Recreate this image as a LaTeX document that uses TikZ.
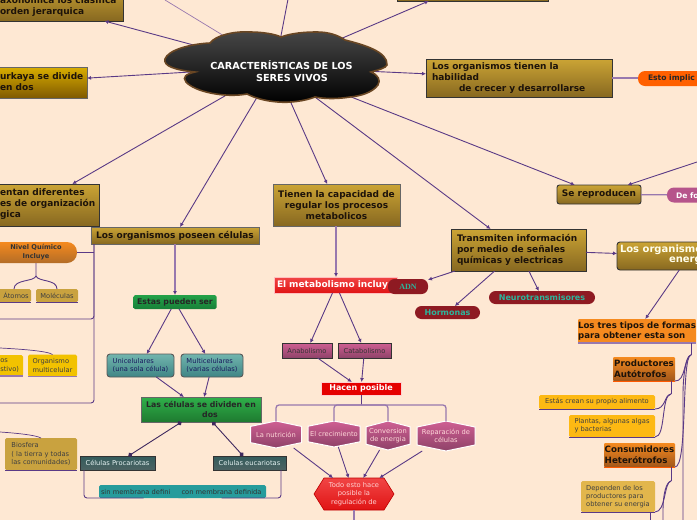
\documentclass[tikz,border=0pt]{standalone}
\usepackage{fontspec}
\setmainfont{DejaVu Sans}
\newfontfamily\serfont{Liberation Serif}
\usetikzlibrary{shapes.geometric,calc,arrows.meta}
\definecolor{bgc}{HTML}{FEE8D3}
\definecolor{conc}{HTML}{5A3A86}
\definecolor{palec}{HTML}{9878AE}
\definecolor{goldt}{HTML}{CBA435}
\definecolor{goldb}{HTML}{876820}
\definecolor{tealt}{HTML}{72B5AE}
\definecolor{tealb}{HTML}{3F8585}
\definecolor{pinkt}{HTML}{CF5F93}
\definecolor{pinkb}{HTML}{8E4268}
\definecolor{redt}{HTML}{F14545}
\definecolor{redb}{HTML}{E01414}
\definecolor{darkred}{HTML}{8E1A22}
\definecolor{teltxt}{HTML}{2CB59C}
\definecolor{leafa}{HTML}{FDB913}
\definecolor{leafb}{HTML}{E2B64C}
\definecolor{leafc}{HTML}{C9A23F}
\definecolor{leafd}{HTML}{F2C200}
\definecolor{orangeb}{HTML}{F58A1F}
\definecolor{brownb}{HTML}{A0561A}
\definecolor{greena}{HTML}{24A148}
\definecolor{greenb}{HTML}{178038}
\definecolor{greenc}{HTML}{2FB04A}
\definecolor{greend}{HTML}{1E7A30}
\tikzset{
 x=1pt,y=-1pt,
 conn/.style={draw=conc,line width=0.9pt},
 pale/.style={draw=palec,line width=1.3pt},
 arr/.style={conn,-{Latex[length=4pt,width=4pt]}},
 parr/.style={pale,-{Latex[length=4pt,width=4pt,color=conc]}},
 dotarr/.style={draw=conc!70!black,line width=0.9pt,{Circle[length=4.5pt]}-{Circle[length=4.5pt]}},
 boxfont/.style={font=\fontsize{9}{11}\selectfont\bfseries,text=black!85!brown},
 smallfont/.style={font=\fontsize{6.7}{8.2}\selectfont},
 plain/.style={inner sep=0pt,outer sep=0pt,rectangle},
 goldbox/.style={plain,top color=goldt,bottom color=goldb,draw=black!80,line width=0.9pt,boxfont,align=left},
 yelbox/.style={goldbox,top color=yellow!60!orange!85!black,bottom color=yellow!40!orange!50!black,draw=black!60},
 greenbox/.style={plain,top color=greena,bottom color=greenb,font=\fontsize{7.8}{10}\selectfont\bfseries,text=black!85,align=center},
 tealbox/.style={plain,rounded corners=3pt,top color=tealt,bottom color=tealb,draw=black!65,line width=0.9pt,smallfont,text=black!70!blue!90!white,align=left},
 slatebox/.style={plain,top color=teal!40!black!80,bottom color=teal!25!black!70!white,draw=black!80,line width=0.9pt,smallfont,text=white!90!teal},
 tbar/.style={plain,fill=teal!55!cyan!75!black!85,rounded corners=1.5pt,smallfont,text=black!80},
 pinkbox/.style={plain,top color=pinkt,bottom color=pinkb,draw=black!80,line width=0.9pt,smallfont,text=black!80},
 redlabel/.style={plain,top color=redt,bottom color=redb,draw=red!25,line width=0.8pt,font=\fontsize{9}{10}\selectfont\bfseries,text=white},
 pillred/.style={plain,rounded corners=6.5pt,fill=darkred,font=\fontsize{8}{10}\selectfont\bfseries,text=teltxt},
 orbox/.style={plain,fill=orangeb,font=\fontsize{8.6}{10.5}\selectfont\bfseries,text=black!85!brown,align=left,rounded corners=1pt},
 brbox/.style={plain,rounded corners=1pt,top color=orangeb,bottom color=brownb,text=black!85!brown,font=\fontsize{8.7}{11.5}\selectfont\bfseries,align=left},
 yleaf/.style={plain,rounded corners=1.5pt,smallfont,text=black!75,align=left},
 hexlabel/.style={plain,smallfont,text=pink!60!white,align=center},
 energyt/.style={plain,font=\fontsize{10}{12}\selectfont\bfseries,text=white!92!yellow,anchor=north west},
}
\newcommand{\hexn}[6]{% name cx cy w h text
 \shade[top color=pinkt,bottom color=pinkb,draw=white,line width=1pt]
  (#2,#3-#5/2) -- (#2+#4/2,#3-#5/2+#5*0.2) -- (#2+#4/2,#3+#5/2-#5*0.2)
  -- (#2,#3+#5/2) -- (#2-#4/2,#3+#5/2-#5*0.2) -- (#2-#4/2,#3-#5/2+#5*0.2) -- cycle;
 \node[hexlabel,minimum width=#4 pt,minimum height=#5 pt] (#1) at (#2,#3) {#6};
}
\begin{document}
\begin{tikzpicture}
\useasboundingbox (0,0) rectangle (697,520);
\clip (0,0) rectangle (697,520);
\fill[bgc] (0,0) rectangle (697,520);

% --- free ends
\coordinate (topa) at (289,-6);
\coordinate (topb) at (165,0);
\coordinate (topr) at (697,162);
\coordinate (bus) at (94,244);
\coordinate (l1) at (0,319);
\coordinate (l2) at (0,403);
\coordinate (l3) at (0,348);
\coordinate (l4) at (0,432);
\coordinate (atomtop) at (14,289);

% hub of the connectors, covered by the cloud drawn last
\node[plain,ellipse,minimum width=150pt,minimum height=50pt] (cloud) at (275,67) {};

% --- gold boxes
\node[goldbox,minimum width=178pt,minimum height=38pt] (taxo) at (34,2) {};
\node[plain,boxfont,align=left,anchor=north west] (taxot) at (0,-3.5) {axonomica los clasifica\\orden jerarquica};
\node[yelbox,minimum width=148pt,minimum height=31pt] (eur) at (13,82.5) {};
\node[plain,boxfont,align=left,anchor=north west] (eurt) at (0,72.5) {urkaya se divide\\en dos};
\node[goldbox,minimum width=126pt,minimum height=42pt] (pres) at (36,205) {};
\node[plain,boxfont,align=left,anchor=north west] (prest) at (0,189) {entan diferentes\\es de organización\\gica};
\node[goldbox,minimum width=168pt,minimum height=17pt,align=center,draw=black!60] (poseen) at (175,235.5) {Los organismos poseen células};
\node[goldbox,minimum width=127pt,minimum height=42pt,align=center,draw=black!60] (tienen) at (336.5,205) {Tienen la capacidad de\\regular los procesos\\metabolicos};
\node[goldbox,minimum width=151pt,minimum height=38pt] (topbox) at (473,-18) {};
\node[goldbox,minimum width=186pt,minimum height=38pt,text width=174pt] (crecer) at (519,78) {Los organismos tienen la\\habilidad\\\hspace*{27pt}de crecer y desarrollarse};
\node[goldbox,rounded corners=2.5pt,minimum width=84pt,minimum height=19pt,align=center] (repro) at (599,194.5) {Se reproducen};
\node[goldbox,minimum width=135pt,minimum height=42pt,text width=123pt] (trans) at (518.5,250) {Transmiten información\\por medio de señales\\químicas y electricas};
\node[goldbox,rounded corners=3pt,minimum width=144pt,minimum height=28pt] (energ) at (689,256) {};
\node[energyt] (energa) at (620,244.5) {Los organismos};
\node[energyt] (energb) at (669,256.5) {energ};

% --- right pills
\node[plain,rounded corners=7pt,fill=orange!75!red,minimum width=80pt,minimum height=15pt] (esto) at (678,78.5) {};
\node[plain,font=\fontsize{7.6}{10}\selectfont\bfseries,text=black!85,anchor=west] (estot) at (648,78.5) {Esto implic};
\node[plain,rounded corners=7pt,fill=magenta!65!black!85,minimum width=60pt,minimum height=15pt] (defo) at (697,195) {};
\node[plain,font=\fontsize{7.6}{10}\selectfont\bfseries,text=white,anchor=west] (defot) at (676,195.5) {De fo};

% --- centre column
\node[redlabel,minimum width=123pt,minimum height=16pt,text width=118pt] (meta) at (336,285) {El metabolismo incluy};
\node[pillred,font=\fontsize{8}{10}\selectfont\bfseries\serfont,minimum width=40pt,minimum height=15pt] (adn) at (408,286.5) {ADN};
\node[pillred,minimum width=65pt,minimum height=13pt] (horm) at (447.5,312.5) {Hormonas};
\node[pillred,minimum width=106pt,minimum height=13pt] (neuro) at (542,297.5) {Neurotransmisores};
\node[pinkbox,minimum width=50pt,minimum height=15pt] (ana) at (307,350.5) {Anabolismo};
\node[pinkbox,minimum width=53pt,minimum height=15pt] (cata) at (364.5,350.5) {Catabolismo};
\node[plain,fill=red!90!black,draw=red!18,line width=0.9pt,minimum width=80pt,minimum height=13pt,font=\fontsize{8}{10}\selectfont\bfseries,text=white] (hacen) at (361,388.5) {Hacen posible};

\hexn{nutri}{276}{434.5}{51}{27}{La nutrición}
\hexn{creci}{334}{434}{52}{26}{El crecimiento}
\hexn{conv}{388}{435.5}{44}{29}{Conversion\\de energia}
\hexn{repa}{446}{436}{58}{30}{Reparación de\\células}

\shade[top color=redt,bottom color=redb,draw=red!75!black,line width=0.6pt]
 (314,494) -- (324,478) -- (384,478) -- (394,494) -- (384,510) -- (324,510) -- cycle;
\node[plain,text=pink!70!white,align=center,font=\fontsize{6.7}{8.4}\selectfont,minimum width=80pt,minimum height=32pt] (todo) at (354,494) {Todo esto hace\\posible la\\regulación de};
\coordinate (todoend) at (354,520);

% --- left column
\node[greenbox,rounded corners=1.5pt,minimum width=83pt,minimum height=14pt] (estas) at (175,302) {Estas pueden ser};
\node[tealbox,minimum width=67pt,minimum height=23pt] (uni) at (140.5,365.5) {Unicelulares\\(una sola célula)};
\node[tealbox,minimum width=62pt,minimum height=23pt] (multi) at (212,365.5) {Multicelulares\\(varias células)};
\node[greenbox,top color=greenc,bottom color=greend,draw=black!60,line width=0.8pt,minimum width=120pt,minimum height=25pt] (dos) at (201,409.5) {Las células se dividen en\\\hspace*{18pt}dos};
\node[slatebox,minimum width=75pt,minimum height=14pt] (proc) at (117.5,463) {Células Procariotas};
\node[slatebox,minimum width=73pt,minimum height=14pt] (euca) at (249.5,463) {Celulas eucariotas};
\node[tbar,minimum width=89pt,minimum height=13pt,text width=85pt] (sin) at (143.5,491.5) {sin membrana defini};
\node[tbar,minimum width=89pt,minimum height=13pt] (con) at (221.5,491.5) {con membrana definida};

% nivel quimico and leaves
\node[plain,rounded corners=10pt,top color=orangeb,bottom color=orange!65!black!85,minimum width=100pt,minimum height=21pt] (nivel) at (27,252.5) {};
\node[plain,font=\fontsize{6.6}{9}\selectfont\bfseries,text=black!80,align=center] (nivelt) at (36,252.5) {Nivel Químico\\Incluye};
\node[yleaf,fill=leafc,minimum width=46pt,minimum height=13pt] (atomos) at (8,295.5) {\hspace*{16pt}Átomos};
\node[yleaf,fill=leafc,minimum width=42pt,minimum height=13pt] (molec) at (57,295.5) {Moléculas};
\node[yleaf,fill=leafd,minimum width=46pt,minimum height=21pt] (yel1) at (0,365.5) {};
\node[plain,smallfont,text=black!75,align=left,anchor=east] (yel1t) at (19,365.5) {os\\stivo)};
\node[yleaf,fill=leafd,minimum width=49pt,minimum height=22pt] (organ) at (52.5,365.5) {Organismo\\multicelular};
\node[yleaf,fill=leafc,minimum width=72pt,minimum height=32pt] (bios) at (41,454) {Biosfera\\( la tierra y todas\\las comunidades)};

% right side
\node[orbox,minimum width=116pt,minimum height=24pt] (tres) at (637,331) {Los tres tipos de formas\\para obtener esta son};
\node[brbox,minimum width=62pt,minimum height=24pt] (prod) at (644,369) {Productores\\Autótrofos};
\node[yleaf,fill=leafa,minimum width=116pt,minimum height=14pt] (crean) at (597,402) {Estás crean su propio alimento};
\node[yleaf,fill=leafa,minimum width=86pt,minimum height=22pt] (plant) at (612,426) {Plantas, algunas algas\\y bacterias};
\node[brbox,minimum width=71pt,minimum height=24pt] (consu) at (639.5,455) {Consumidores\\Heterótrofos};
\node[yleaf,fill=leafb,minimum width=74pt,minimum height=31pt] (depen) at (618,496.5) {Dependen de los\\productores para\\obtener su energia};

% --- connectors
\draw[arr] (cloud) -- (taxo);
\draw[arr] (cloud) -- (eur);
\draw[arr] (cloud) -- (pres);
\draw[arr] (cloud) -- (poseen);
\draw[arr] (cloud) -- (tienen);
\draw[arr] (cloud) -- (trans);
\draw[arr] (cloud) -- (repro);
\draw[arr] (cloud) -- (crecer);
\draw[arr] (cloud) -- (topbox);
\draw[conn] (cloud) -- (topa);
\draw[draw=palec,line width=0.7pt] (cloud) -- (topb);
\draw[arr] (topr) -- (repro);
\draw[pale] (crecer) -- (crecer -| esto.west);
\draw[pale] (repro) -- (defo);
\draw[parr] (poseen.south) -- (estas.north);
\draw[parr] (tienen.south -| meta) -- (meta.north);
\draw[arr] (trans) -- (adn);
\draw[arr] (trans) -- (horm);
\draw[arr] (trans) -- (neuro);
\draw[arr] (trans) -- (energ);
\draw[arr] (energ) -- (tres);
\draw[arr] (estas) -- (uni);
\draw[arr] (estas) -- (multi);
\draw[arr] (uni) -- (dos);
\draw[arr] (multi) -- (dos);
\draw[dotarr] (dos) -- (proc);
\draw[dotarr] (dos) -- (euca);
\draw[arr] (meta) -- (ana);
\draw[arr] (meta) -- (cata);
\draw[arr] (ana) -- (hacen);
\draw[arr] (cata) -- (hacen);
\draw[arr] (nutri) -- (todo);
\draw[arr] (creci) -- (todo);
\draw[arr] (conv) -- (todo);
\draw[arr] (repa) -- (todo);
\draw[pale] (todo.south) -- (todoend);

% hacen bracket
\coordinate (hb) at (361,405);
\draw[conn] (hacen.south) -- (hb);
\draw[pale,rounded corners=3pt] (hb) -| (nutri.north);
\draw[pale,rounded corners=3pt] (hb) -| (repa.north);
\draw[pale,rounded corners=3pt] (creci.north) |- (hb);
\draw[pale,rounded corners=3pt] (conv.north) |- (hb);

% membrane brackets
\draw[conn,rounded corners=3pt] ([xshift=-33.5pt]proc.south) |- (sin.south);
\draw[conn,rounded corners=3pt] ([xshift=31.5pt]euca.south) |- (con.south);

% left bus
\draw[conn] (nivel.east) -- (nivel.east -| bus);
\draw[conn,rounded corners=3pt] (bus) |- (l1);
\draw[conn,rounded corners=3pt] (bus) |- (l2);
\draw[conn] (36,263) -- (36,276) .. controls (34,282) and (14,279) .. (atomtop);
\draw[conn] (36,276) .. controls (38,282) and (57,279) .. (molec.north);
\draw[conn,line width=0.7pt] (l3) .. controls (20,349) and (48,351) .. (organ.north);
\draw[conn,line width=0.7pt] (l4) .. controls (15,433) and (36,435) .. (bios.north);
\draw[conn] (atomos.south west) -- (atomos.south east);
\draw[conn] (molec.south west) -- (molec.south east);
\draw[pale] (yel1.south west) -- (yel1.south east);
\draw[pale] (organ.south west) -- (organ.south east);
\draw[conn] (bios.south west) -- (bios.south east);
\draw[pale,line width=1.2pt] (tres.south west) -- (tres.south east);
\draw[conn] (crean.south west) -- (crean.south east);
\draw[conn] (plant.south west) -- (plant.south east);
\draw[conn] (depen.south west) -- (depen.south east);
\draw[draw=orange!70!red,line width=1pt] (prod.south west) -- (prod.south east);
\draw[draw=orange!70!red,line width=1pt] (consu.south west) -- (consu.south east);

% right tree
\coordinate (r0) at (691,355);
\coordinate (r1) at (671,394);
\coordinate (r2) at (671,481);
\draw[conn] (691,343) -- (r0);
\draw[conn] (r0) .. controls (684,356) and (686,382) .. (prod.south east);
\draw[conn] (r0) .. controls (681,356) and (688,467) .. (consu.south east);
\draw[conn] (r0) .. controls (686,356) and (683,375) .. (683,395) -- (683,520);
\draw[conn] (671,381) -- (r1);
\draw[conn] (r1) .. controls (664,395) and (666,409) .. (crean.south east);
\draw[conn] (r1) .. controls (661,395) and (666,437) .. (plant.south east);
\draw[conn] (671,467) -- (r2);
\draw[conn] (r2) .. controls (664,482) and (666,512) .. (depen.south east);
\draw[conn] (r2) .. controls (666,482) and (663,495) .. (663,510) -- (663,520);
\draw[conn] (650,512) -- (650,520);

% --- cloud, over the ends of its connectors
\shade[top color=black!72,bottom color=black,draw=brown!55!black,line width=1.6pt]
 (210,43) .. controls (216,35) and (235,31) .. (250,32)
 .. controls (262,32) and (275,34) .. (281,37)
 .. controls (292,33) and (305,32) .. (317,32)
 .. controls (328,32) and (338,35) .. (345,40)
 .. controls (365,45) and (388,52) .. (387,65)
 .. controls (386,68) and (378,70) .. (371,72)
 .. controls (378,75) and (381,80) .. (378,85)
 .. controls (372,93) and (360,96) .. (350,97)
 .. controls (338,99) and (325,99) .. (315,97)
 .. controls (305,101) and (290,103) .. (278,102)
 .. controls (265,101) and (255,98) .. (247,94)
 .. controls (225,98) and (195,92) .. (186,82)
 .. controls (182,77) and (186,74) .. (195,72)
 .. controls (175,70) and (163,66) .. (165,59)
 .. controls (168,50) and (190,44) .. (210,43) -- cycle;
\node[plain,font=\fontsize{9.7}{12}\selectfont\bfseries,text=white!90,align=center] (cloudt) at (281.5,71) {CARACTERÍSTICAS DE LOS\\\hspace*{21pt}SERES VIVOS};
\end{tikzpicture}
\end{document}
